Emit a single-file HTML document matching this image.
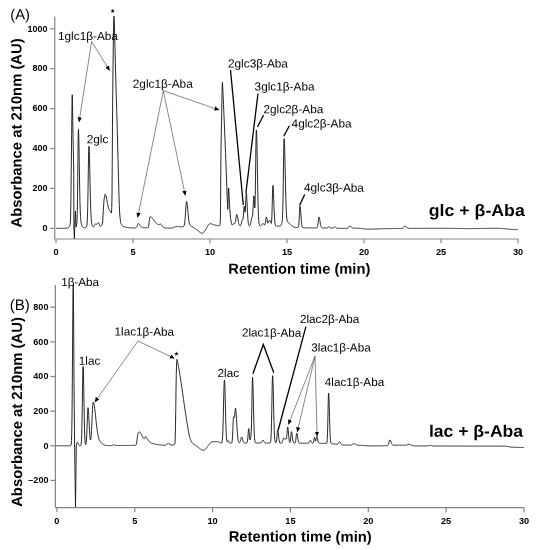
<!DOCTYPE html><html><head><meta charset="utf-8"><title>HPLC chromatograms</title>
<style>html,body{margin:0;padding:0;background:#fff}svg{display:block}text{font-family:"Liberation Sans",Arial,sans-serif;fill:#000}.b{font-weight:bold}.st{font-family:"DejaVu Sans",sans-serif}</style></head><body>
<svg width="537" height="550" viewBox="0 0 537 550">
<defs><marker id="ah" markerWidth="7" markerHeight="6" refX="4.5" refY="2.2" orient="auto" markerUnits="userSpaceOnUse"><path d="M0,0 L4.9,2.2 L0,4.4 Z" fill="#000"/></marker></defs>
<rect width="537" height="550" fill="#fff"/>
<g>
<g stroke="#858585" stroke-width="1.2" fill="none">
<path d="M54.75,16.5 V239.0 M54.75,239.0 H518.2"/>
<path d="M50.2,228.3 H54.75"/>
<path d="M50.2,188.4 H54.75"/>
<path d="M50.2,148.5 H54.75"/>
<path d="M50.2,108.6 H54.75"/>
<path d="M50.2,68.7 H54.75"/>
<path d="M50.2,28.8 H54.75"/>
<path d="M56.0,239.0 V243.3"/>
<path d="M133.0,239.0 V243.3"/>
<path d="M210.0,239.0 V243.3"/>
<path d="M287.0,239.0 V243.3"/>
<path d="M364.0,239.0 V243.3"/>
<path d="M441.0,239.0 V243.3"/>
<path d="M518.0,239.0 V243.3"/>
</g>
<text class="b" transform="translate(47.5,231.0) scale(0.95,1)" font-size="9.5" text-anchor="end">0</text>
<text class="b" transform="translate(47.5,191.1) scale(0.95,1)" font-size="9.5" text-anchor="end">200</text>
<text class="b" transform="translate(47.5,151.2) scale(0.95,1)" font-size="9.5" text-anchor="end">400</text>
<text class="b" transform="translate(47.5,111.3) scale(0.95,1)" font-size="9.5" text-anchor="end">600</text>
<text class="b" transform="translate(47.5,71.4) scale(0.95,1)" font-size="9.5" text-anchor="end">800</text>
<text class="b" transform="translate(47.5,31.5) scale(0.95,1)" font-size="9.5" text-anchor="end">1000</text>
<text class="b" transform="translate(56.0,254.7) scale(0.95,1)" font-size="9.7" text-anchor="middle">0</text>
<text class="b" transform="translate(133.0,254.7) scale(0.95,1)" font-size="9.7" text-anchor="middle">5</text>
<text class="b" transform="translate(210.0,254.7) scale(0.95,1)" font-size="9.7" text-anchor="middle">10</text>
<text class="b" transform="translate(287.0,254.7) scale(0.95,1)" font-size="9.7" text-anchor="middle">15</text>
<text class="b" transform="translate(364.0,254.7) scale(0.95,1)" font-size="9.7" text-anchor="middle">20</text>
<text class="b" transform="translate(441.0,254.7) scale(0.95,1)" font-size="9.7" text-anchor="middle">25</text>
<text class="b" transform="translate(518.0,254.7) scale(0.95,1)" font-size="9.7" text-anchor="middle">30</text>
<text transform="translate(10.2,19.6) rotate(0.06)" font-size="14.8">(A)</text>
<text class="b" transform="translate(21.5,132.9) rotate(-90.06)" font-size="14.8" text-anchor="middle">Absorbance at 210nm (AU)</text>
<text class="b" transform="translate(299.3,273.7) rotate(0.06)" font-size="14.7" text-anchor="middle">Retention time (min)</text>
<text class="b" transform="translate(428.8,216) rotate(0.06)" font-size="16.7" textLength="96.0" lengthAdjust="spacingAndGlyphs">glc + β-Aba</text>
<path d="M56.00,228.35 L56.25,228.35 L56.50,228.35 L56.75,228.35 L57.00,228.35 L57.25,228.35 L57.50,228.35 L57.75,228.35 L58.00,228.35 L58.25,228.35 L58.50,228.35 L58.75,228.35 L59.00,228.35 L59.25,228.35 L59.50,228.35 L59.75,228.35 L60.00,228.35 L60.25,228.35 L60.50,228.35 L60.75,228.35 L61.00,228.35 L61.25,228.35 L61.50,228.35 L61.75,228.35 L62.00,228.35 L62.25,228.35 L62.50,228.35 L62.75,228.35 L63.00,228.35 L63.25,228.35 L63.50,228.35 L63.75,228.35 L64.00,228.35 L64.25,228.35 L64.50,228.35 L64.75,228.35 L65.00,228.35 L65.25,228.35 L65.50,228.35 L65.75,228.35 L66.00,228.35 L66.25,228.34 L66.50,228.31 L66.75,228.27 L67.00,228.22 L67.25,228.15 L67.50,228.07 L67.75,227.98 L68.00,227.88 L68.25,227.78 L68.50,227.64 L68.75,227.45 L69.00,227.21 L69.25,226.89 L69.50,226.50 L69.75,225.91 L70.00,224.90 L70.25,223.31 L70.50,220.04 L70.75,208.80 L71.00,192.84 L71.25,169.53 L71.50,147.45 L71.75,125.46 L72.00,102.97 L72.25,94.85 L72.50,104.60 L72.75,120.65 L73.00,135.30 L73.25,147.50 L73.50,159.70 L73.75,174.27 L73.90,228.00 L74.40,238.50 L74.90,222.00 L75.40,211.00 L75.90,224.00 L76.20,227.00 L76.25,225.16 L76.50,225.02 L76.75,223.88 L77.00,220.57 L77.25,212.92 L77.50,198.37 L77.75,176.29 L78.00,151.25 L78.25,132.92 L78.50,129.45 L78.75,135.66 L79.00,147.88 L79.25,163.25 L79.50,178.92 L79.75,192.69 L80.00,203.47 L80.25,211.17 L80.50,216.31 L80.75,219.63 L81.00,221.79 L81.25,223.27 L81.50,224.34 L81.75,225.16 L82.00,225.81 L82.25,226.32 L82.50,226.72 L82.75,227.03 L83.00,227.26 L83.25,227.43 L83.50,227.55 L83.75,227.63 L84.00,227.68 L84.25,227.72 L84.50,227.74 L84.75,227.74 L85.00,227.74 L85.25,227.71 L85.50,227.66 L85.75,227.57 L86.00,227.41 L86.25,227.14 L86.50,226.66 L86.75,225.79 L87.00,224.10 L87.25,220.86 L87.50,214.94 L87.75,205.21 L88.00,191.30 L88.25,174.63 L88.50,158.73 L88.75,148.22 L89.00,146.27 L89.25,150.31 L89.50,158.57 L89.75,169.48 L90.00,181.30 L90.25,192.52 L90.50,202.11 L90.75,209.67 L91.00,215.22 L91.25,219.11 L91.50,221.74 L91.75,223.51 L92.00,224.71 L92.25,225.54 L92.50,226.12 L92.75,226.51 L93.00,226.75 L93.25,226.85 L93.50,226.82 L93.75,226.64 L94.00,226.33 L94.25,225.91 L94.50,225.41 L94.75,224.89 L95.00,224.43 L95.25,224.08 L95.50,223.90 L95.75,223.89 L96.00,224.00 L96.25,224.15 L96.50,224.25 L96.75,224.24 L97.00,224.05 L97.25,223.73 L97.50,223.32 L97.75,222.93 L98.00,222.67 L98.25,222.62 L98.50,222.80 L98.75,223.21 L99.00,223.77 L99.25,224.39 L99.50,224.99 L99.75,225.51 L100.00,225.91 L100.25,226.15 L100.50,226.23 L100.75,226.18 L101.00,226.02 L101.25,225.78 L101.50,225.48 L101.75,225.12 L102.00,224.62 L102.25,223.93 L102.50,222.97 L102.75,220.93 L103.00,215.97 L103.25,210.79 L103.50,207.09 L103.75,203.61 L104.00,200.59 L104.25,198.33 L104.50,196.77 L104.75,195.40 L105.00,194.47 L105.25,194.21 L105.50,194.56 L105.75,195.22 L106.00,196.00 L106.25,196.95 L106.50,198.19 L106.75,199.58 L107.00,200.98 L107.25,202.24 L107.50,203.49 L107.75,204.76 L108.00,205.97 L108.25,207.05 L108.50,207.90 L108.75,208.57 L109.00,209.16 L109.25,209.68 L109.50,210.15 L109.75,210.59 L110.00,211.00 L110.25,211.43 L110.50,211.88 L110.75,212.30 L111.00,212.66 L111.25,212.91 L111.50,213.00 L111.75,207.63 L112.00,195.00 L112.25,161.42 L112.50,120.00 L112.75,92.02 L113.00,68.32 L113.25,47.67 L113.50,28.93 L113.75,18.82 L114.00,16.20 L114.25,20.85 L114.50,27.65 L114.75,37.27 L115.00,48.45 L115.25,59.82 L115.50,70.00 L115.75,78.80 L116.00,87.10 L116.25,95.13 L116.50,103.14 L116.75,111.35 L117.00,120.00 L117.25,129.29 L117.50,139.05 L117.75,148.99 L118.00,158.81 L118.25,168.20 L118.50,177.42 L118.75,187.04 L119.00,196.25 L119.25,204.19 L119.50,210.00 L119.75,214.02 L120.00,217.14 L120.25,219.39 L120.50,221.17 L120.75,222.58 L121.00,223.50 L121.25,224.09 L121.50,224.58 L121.75,224.98 L122.00,225.31 L122.25,225.58 L122.50,225.80 L122.75,225.99 L123.00,226.15 L123.25,226.29 L123.50,226.42 L123.75,226.53 L124.00,226.63 L124.25,226.72 L124.50,226.80 L124.75,226.88 L125.00,226.96 L125.25,227.03 L125.50,227.11 L125.75,227.17 L126.00,227.24 L126.25,227.30 L126.50,227.35 L126.75,227.41 L127.00,227.45 L127.25,227.50 L127.50,227.54 L127.75,227.57 L128.00,227.60 L128.25,227.63 L128.50,227.65 L128.75,227.68 L129.00,227.71 L129.25,227.73 L129.50,227.75 L129.75,227.78 L130.00,227.80 L130.25,227.82 L130.50,227.84 L130.75,227.86 L131.00,227.88 L131.25,227.90 L131.50,227.92 L131.75,227.93 L132.00,227.94 L132.25,227.96 L132.50,227.97 L132.75,227.98 L133.00,227.99 L133.25,227.99 L133.50,228.00 L133.75,228.00 L134.00,228.00 L134.25,228.00 L134.50,228.00 L134.75,227.99 L135.00,227.98 L135.25,227.95 L135.50,227.91 L135.75,227.84 L136.00,227.72 L136.25,227.53 L136.50,227.24 L136.75,226.83 L137.00,226.31 L137.25,225.69 L137.50,225.03 L137.75,224.41 L138.00,223.91 L138.25,223.61 L138.50,223.56 L138.75,223.64 L139.00,223.82 L139.25,224.08 L139.50,224.41 L139.75,224.78 L140.00,225.17 L140.25,225.56 L140.50,225.94 L140.75,226.28 L141.00,226.59 L141.25,226.85 L141.50,227.06 L141.75,227.24 L142.00,227.37 L142.25,227.47 L142.50,227.54 L142.75,227.59 L143.00,227.63 L143.25,227.66 L143.50,227.68 L143.75,227.69 L144.00,227.71 L144.25,227.72 L144.50,227.73 L144.75,227.74 L145.00,227.75 L145.25,227.76 L145.50,227.77 L145.75,227.78 L146.00,227.78 L146.25,227.79 L146.50,227.80 L146.75,227.80 L147.00,227.80 L147.25,227.79 L147.50,227.76 L147.75,227.71 L148.00,227.63 L148.25,227.52 L148.50,226.86 L148.75,225.13 L149.00,223.16 L149.25,220.53 L149.50,218.50 L149.75,217.41 L150.00,216.63 L150.25,216.40 L150.50,216.50 L150.75,216.69 L151.00,216.90 L151.25,217.12 L151.50,217.37 L151.75,217.65 L152.00,217.96 L152.25,218.29 L152.50,218.63 L152.75,218.97 L153.00,219.32 L153.25,219.66 L153.50,220.00 L153.75,220.31 L154.00,220.60 L154.25,220.88 L154.50,221.18 L154.75,221.49 L155.00,221.79 L155.25,222.10 L155.50,222.41 L155.75,222.71 L156.00,222.99 L156.25,223.26 L156.50,223.51 L156.75,223.73 L157.00,223.93 L157.25,224.10 L157.50,224.23 L157.75,224.32 L158.00,224.39 L158.25,224.46 L158.50,224.52 L158.75,224.56 L159.00,224.59 L159.25,224.59 L159.50,224.43 L159.75,224.14 L160.00,223.88 L160.25,223.80 L160.50,223.95 L160.75,224.23 L161.00,224.56 L161.25,224.86 L161.50,225.16 L161.75,225.50 L162.00,225.85 L162.25,226.19 L162.50,226.51 L162.75,226.79 L163.00,227.00 L163.25,227.17 L163.50,227.33 L163.75,227.46 L164.00,227.58 L164.25,227.66 L164.50,227.72 L164.75,227.77 L165.00,227.81 L165.25,227.86 L165.50,227.90 L165.75,227.93 L166.00,227.97 L166.25,228.00 L166.50,228.02 L166.75,228.05 L167.00,228.06 L167.25,228.08 L167.50,228.09 L167.75,228.10 L168.00,228.10 L168.25,228.10 L168.50,228.10 L168.75,228.10 L169.00,228.09 L169.25,228.09 L169.50,228.08 L169.75,228.08 L170.00,228.07 L170.25,228.07 L170.50,228.06 L170.75,228.05 L171.00,228.04 L171.25,228.03 L171.50,228.02 L171.75,228.01 L172.00,228.00 L172.25,227.98 L172.50,227.94 L172.75,227.88 L173.00,227.80 L173.25,227.72 L173.50,227.62 L173.75,227.52 L174.00,227.40 L174.25,227.29 L174.50,227.17 L174.75,227.06 L175.00,226.94 L175.25,226.83 L175.50,226.73 L175.75,226.64 L176.00,226.56 L176.25,226.49 L176.50,226.44 L176.75,226.41 L177.00,226.40 L177.25,226.40 L177.50,226.41 L177.75,226.43 L178.00,226.45 L178.25,226.48 L178.50,226.51 L178.75,226.54 L179.00,226.58 L179.25,226.61 L179.50,226.65 L179.75,226.69 L180.00,226.72 L180.25,226.76 L180.50,226.79 L180.75,226.82 L181.00,226.85 L181.25,226.87 L181.50,226.89 L181.75,226.90 L182.00,226.90 L182.25,226.89 L182.50,226.88 L182.75,226.85 L183.00,226.80 L183.25,226.71 L183.50,226.56 L183.75,226.30 L184.00,225.83 L184.25,225.06 L184.50,223.85 L184.75,222.06 L185.00,219.60 L185.25,216.49 L185.50,212.88 L185.75,209.11 L186.00,205.64 L186.25,202.98 L186.50,201.58 L186.75,201.57 L187.00,202.56 L187.25,204.39 L187.50,206.84 L187.75,209.67 L188.00,212.60 L188.25,215.40 L188.50,217.91 L188.75,220.03 L189.00,221.72 L189.25,223.00 L189.50,223.93 L189.75,224.59 L190.00,225.06 L190.25,225.39 L190.50,225.65 L190.75,225.85 L191.00,226.04 L191.25,226.21 L191.50,226.38 L191.75,226.54 L192.00,226.71 L192.25,226.87 L192.50,227.03 L192.75,227.17 L193.00,227.31 L193.25,227.46 L193.50,227.60 L193.75,227.76 L194.00,227.91 L194.25,228.07 L194.50,228.23 L194.75,228.40 L195.00,228.56 L195.25,228.73 L195.50,228.90 L195.75,229.07 L196.00,229.23 L196.25,229.40 L196.50,229.57 L196.75,229.74 L197.00,229.90 L197.25,230.07 L197.50,230.26 L197.75,230.46 L198.00,230.66 L198.25,230.88 L198.50,231.10 L198.75,231.32 L199.00,231.54 L199.25,231.76 L199.50,231.98 L199.75,232.18 L200.00,232.38 L200.25,232.56 L200.50,232.73 L200.75,232.88 L201.00,233.02 L201.25,233.13 L201.50,233.21 L201.75,233.27 L202.00,233.30 L202.25,233.29 L202.50,233.23 L202.75,233.11 L203.00,232.95 L203.25,232.75 L203.50,232.52 L203.75,232.25 L204.00,231.96 L204.25,231.65 L204.50,231.33 L204.75,230.99 L205.00,230.66 L205.25,230.33 L205.50,230.00 L205.75,229.64 L206.00,229.22 L206.25,228.75 L206.50,228.24 L206.75,227.72 L207.00,227.21 L207.25,226.71 L207.50,226.25 L207.75,225.84 L208.00,225.50 L208.25,225.19 L208.50,224.88 L208.75,224.58 L209.00,224.29 L209.25,224.04 L209.50,223.83 L209.75,223.68 L210.00,223.61 L210.25,223.60 L210.50,223.63 L210.75,223.68 L211.00,223.74 L211.25,223.82 L211.50,223.91 L211.75,224.01 L212.00,224.12 L212.25,224.23 L212.50,224.34 L212.75,224.45 L213.00,224.55 L213.25,224.64 L213.50,224.72 L213.75,224.79 L214.00,224.84 L214.25,224.90 L214.50,224.96 L214.75,225.02 L215.00,225.07 L215.25,225.13 L215.50,225.19 L215.75,225.24 L216.00,225.29 L216.25,225.34 L216.50,225.39 L216.75,225.44 L217.00,225.48 L217.25,225.52 L217.50,225.56 L217.75,225.60 L218.00,225.63 L218.25,225.65 L218.50,225.67 L218.75,225.69 L219.00,225.70 L219.25,225.70 L219.50,225.63 L219.75,225.34 L220.00,224.80 L220.25,222.16 L220.50,212.00 L220.75,175.89 L221.00,147.80 L221.25,134.55 L221.50,123.60 L221.75,109.75 L222.00,94.67 L222.25,84.49 L222.50,82.38 L222.75,88.00 L223.00,93.20 L223.25,98.72 L223.50,104.47 L223.75,110.34 L224.00,116.25 L224.25,122.12 L224.50,128.03 L224.75,134.01 L225.00,140.06 L225.25,146.21 L225.50,152.46 L225.75,158.86 L226.00,165.45 L226.25,172.17 L226.50,178.93 L226.75,185.66 L227.00,192.63 L227.25,199.56 L227.50,205.16 L227.75,209.43 L228.00,204.15 L228.25,194.58 L228.50,187.90 L228.75,188.38 L229.00,193.92 L229.25,198.80 L229.50,203.69 L229.75,208.31 L230.00,212.00 L230.25,214.86 L230.50,217.37 L230.75,219.45 L231.00,221.00 L231.25,222.21 L231.50,223.30 L231.75,224.19 L232.00,224.81 L232.25,225.06 L232.50,224.99 L232.75,224.78 L233.00,224.45 L233.25,224.07 L233.50,223.72 L233.75,223.49 L234.00,223.42 L234.25,223.47 L234.50,223.56 L234.75,223.54 L235.00,223.26 L235.25,222.58 L235.50,221.43 L235.75,219.87 L236.00,218.09 L236.25,216.38 L236.50,215.08 L236.75,214.50 L237.00,214.68 L237.25,215.42 L237.50,216.61 L237.75,218.08 L238.00,219.66 L238.25,221.18 L238.50,222.52 L238.75,223.61 L239.00,224.44 L239.25,225.03 L239.50,225.43 L239.75,225.66 L240.00,225.77 L240.25,225.75 L240.50,225.60 L240.75,225.27 L241.00,224.69 L241.25,223.86 L241.50,222.81 L241.75,221.68 L242.00,220.68 L242.25,220.01 L242.50,219.70 L242.75,219.52 L243.00,218.90 L243.25,217.16 L243.50,214.04 L243.75,210.17 L244.00,207.07 L244.25,206.20 L244.50,207.83 L244.75,210.59 L245.00,212.28 L245.25,211.17 L245.50,207.00 L245.75,201.09 L246.00,195.68 L246.25,193.03 L246.50,193.79 L246.75,196.88 L247.00,201.61 L247.25,207.10 L247.50,212.43 L247.75,216.99 L248.00,220.46 L248.25,222.84 L248.50,224.34 L248.75,225.18 L249.00,225.62 L249.25,225.81 L249.50,225.85 L249.75,225.76 L250.00,225.52 L250.25,225.04 L250.50,224.27 L250.75,223.15 L251.00,221.75 L251.25,220.23 L251.50,218.86 L251.75,217.87 L252.00,217.31 L252.25,216.87 L252.50,215.90 L252.75,213.67 L253.00,209.76 L253.25,204.57 L253.50,199.41 L253.75,196.03 L254.00,195.81 L254.25,199.51 L254.50,204.81 L254.75,207.87 L255.00,205.30 L255.25,195.39 L255.50,178.73 L255.75,158.56 L256.00,140.33 L256.25,129.97 L256.50,130.08 L256.75,136.46 L257.00,147.47 L257.25,161.30 L257.50,175.93 L257.75,189.59 L258.00,201.13 L258.25,210.05 L258.50,216.38 L258.75,220.55 L259.00,223.10 L259.25,224.55 L259.50,225.32 L259.75,225.69 L260.00,225.85 L260.25,225.89 L260.50,225.87 L260.75,225.80 L261.00,225.66 L261.25,225.46 L261.50,225.19 L261.75,224.86 L262.00,224.49 L262.25,224.12 L262.50,223.80 L262.75,223.58 L263.00,223.50 L263.25,223.58 L263.50,223.80 L263.75,224.11 L264.00,224.47 L264.25,224.78 L264.50,224.97 L264.75,224.91 L265.00,224.45 L265.25,223.48 L265.50,221.97 L265.75,220.11 L266.00,218.34 L266.25,217.21 L266.50,217.08 L266.75,217.84 L267.00,219.22 L267.25,220.84 L267.50,222.30 L267.75,223.17 L268.00,223.22 L268.25,222.50 L268.50,221.50 L268.75,220.82 L269.00,220.67 L269.25,220.74 L269.50,220.66 L269.75,220.44 L270.00,220.41 L270.25,220.78 L270.50,221.51 L270.75,222.44 L271.00,223.27 L271.25,223.50 L271.50,222.42 L271.75,219.03 L272.00,212.52 L272.25,203.17 L272.50,193.20 L272.75,186.33 L273.00,185.33 L273.25,188.07 L273.50,193.26 L273.75,199.84 L274.00,206.67 L274.25,212.79 L274.50,217.66 L274.75,221.15 L275.00,223.42 L275.25,224.76 L275.50,225.49 L275.75,225.85 L276.00,226.02 L276.25,226.09 L276.50,226.12 L276.75,226.14 L277.00,226.14 L277.25,226.15 L277.50,226.15 L277.75,226.16 L278.00,226.16 L278.25,226.17 L278.50,226.17 L278.75,226.18 L279.00,226.18 L279.25,226.19 L279.50,226.18 L279.75,226.17 L280.00,226.14 L280.25,226.06 L280.50,225.90 L280.75,225.64 L281.00,225.25 L281.25,224.73 L281.50,224.10 L281.75,223.37 L282.00,222.36 L282.25,220.58 L282.50,217.15 L282.75,210.57 L283.00,199.40 L283.25,183.46 L283.50,164.94 L283.75,148.36 L284.00,138.90 L284.25,138.74 L284.50,143.41 L284.75,151.68 L285.00,162.37 L285.25,174.09 L285.50,185.55 L285.75,195.76 L286.00,204.14 L286.25,210.52 L286.50,215.03 L286.75,218.02 L287.00,219.89 L287.25,221.00 L287.50,221.67 L287.75,222.08 L288.00,222.34 L288.25,222.54 L288.50,222.72 L288.75,222.91 L289.00,223.12 L289.25,223.34 L289.50,223.58 L289.75,223.82 L290.00,224.07 L290.25,224.33 L290.50,224.59 L290.75,224.84 L291.00,225.09 L291.25,225.33 L291.50,225.56 L291.75,225.78 L292.00,225.98 L292.25,226.16 L292.50,226.33 L292.75,226.49 L293.00,226.63 L293.25,226.76 L293.50,226.88 L293.75,226.98 L294.00,227.07 L294.25,227.16 L294.50,227.23 L294.75,227.29 L295.00,227.35 L295.25,227.40 L295.50,227.44 L295.75,227.47 L296.00,227.49 L296.25,227.50 L296.50,227.52 L296.75,227.53 L297.00,227.55 L297.25,227.56 L297.50,227.57 L297.75,227.57 L298.00,227.52 L298.25,227.30 L298.50,226.68 L298.75,225.18 L299.00,222.28 L299.25,217.81 L299.50,212.47 L299.75,207.96 L300.00,206.18 L300.25,207.00 L300.50,209.27 L300.75,212.52 L301.00,216.12 L301.25,219.53 L301.50,222.37 L301.75,224.50 L302.00,225.93 L302.25,226.81 L302.50,227.31 L302.75,227.57 L303.00,227.70 L303.25,227.75 L303.50,227.78 L303.75,227.79 L304.00,227.80 L304.25,227.81 L304.50,227.82 L304.75,227.82 L305.00,227.83 L305.25,227.83 L305.50,227.84 L305.75,227.84 L306.00,227.85 L306.25,227.85 L306.50,227.86 L306.75,227.86 L307.00,227.86 L307.25,227.87 L307.50,227.87 L307.75,227.87 L308.00,227.88 L308.25,227.88 L308.50,227.88 L308.75,227.89 L309.00,227.89 L309.25,227.89 L309.50,227.90 L309.75,227.90 L310.00,227.90 L310.25,227.90 L310.50,227.90 L310.75,227.91 L311.00,227.91 L311.25,227.91 L311.50,227.91 L311.75,227.91 L312.00,227.92 L312.25,227.92 L312.50,227.92 L312.75,227.92 L313.00,227.92 L313.25,227.92 L313.50,227.92 L313.75,227.93 L314.00,227.93 L314.25,227.93 L314.50,227.93 L314.75,227.93 L315.00,227.93 L315.25,227.93 L315.50,227.93 L315.75,227.94 L316.00,227.94 L316.25,227.93 L316.50,227.92 L316.75,227.88 L317.00,227.75 L317.25,227.46 L317.50,226.83 L317.75,225.71 L318.00,223.98 L318.25,221.75 L318.50,219.42 L318.75,217.63 L319.00,216.95 L319.25,217.29 L319.50,218.24 L319.75,219.65 L320.00,221.28 L320.25,222.91 L320.50,224.38 L320.75,225.57 L321.00,226.46 L321.25,227.08 L321.50,227.47 L321.75,227.70 L322.00,227.83 L322.25,227.90 L322.50,227.93 L322.75,227.95 L323.00,227.96 L323.25,227.96 L323.50,227.96 L323.75,227.96 L324.00,227.96 L324.25,227.96 L324.50,227.97 L324.75,227.97 L325.00,227.97 L325.25,227.97 L325.50,227.97 L325.75,227.97 L326.00,227.97 L326.25,227.97 L326.50,227.96 L326.75,227.95 L327.00,227.92 L327.25,227.86 L327.50,227.76 L327.75,227.60 L328.00,227.39 L328.25,227.15 L328.50,226.92 L328.75,226.75 L329.00,226.69 L329.25,226.76 L329.50,226.93 L329.75,227.16 L330.00,227.40 L330.25,227.62 L330.50,227.78 L330.75,227.89 L331.00,227.96 L331.25,227.99 L331.50,228.01 L331.75,228.03 L332.00,228.03 L332.25,228.03 L332.50,228.01 L332.75,227.97 L333.00,227.89 L333.25,227.77 L333.50,227.58 L333.75,227.36 L334.00,227.13 L334.25,226.94 L334.50,226.84 L334.75,226.86 L335.00,227.00 L335.25,227.23 L335.50,227.48 L335.75,227.72 L336.00,227.91 L336.25,228.05 L336.50,228.14 L336.75,228.19 L337.00,228.22 L337.25,228.24 L337.50,228.26 L337.75,228.27 L338.00,228.28 L338.25,228.29 L338.50,228.30 L338.75,228.31 L339.00,228.32 L339.25,228.33 L339.50,228.33 L339.75,228.34 L340.00,228.35 L340.25,228.36 L340.50,228.36 L340.75,228.37 L341.00,228.38 L341.25,228.38 L341.50,228.39 L341.75,228.39 L342.00,228.39 L342.25,228.40 L342.50,228.40 L342.75,228.40 L343.00,228.40 L343.25,228.40 L343.50,228.40 L343.75,228.40 L344.00,228.40 L344.25,228.40 L344.50,228.39 L344.75,228.39 L345.00,228.39 L345.25,228.39 L345.50,228.39 L345.75,228.38 L346.00,228.38 L346.25,228.37 L346.50,228.37 L346.75,228.35 L347.00,228.33 L347.25,228.29 L347.50,228.21 L347.75,228.09 L348.00,227.90 L348.25,227.63 L348.50,227.30 L348.75,226.93 L349.00,226.57 L349.25,226.28 L349.50,226.13 L349.75,226.13 L350.00,226.19 L350.25,226.30 L350.50,226.46 L350.75,226.66 L351.00,226.87 L351.25,227.08 L351.50,227.29 L351.75,227.49 L352.00,227.66 L352.25,227.80 L352.50,227.92 L352.75,228.01 L353.00,228.08 L353.25,228.13 L353.50,228.17 L353.75,228.19 L354.00,228.21 L354.25,228.21 L354.50,228.22 L354.75,228.22 L355.00,228.22 L355.25,228.22 L355.50,228.21 L355.75,228.21 L356.00,228.21 L356.25,228.21 L356.50,228.21 L356.75,228.20 L357.00,228.20 L357.25,228.20 L357.50,228.20 L357.75,228.20 L358.00,228.20 L358.25,228.20 L358.50,228.21 L358.75,228.22 L359.00,228.23 L359.25,228.24 L359.50,228.26 L359.75,228.28 L360.00,228.30 L360.25,228.33 L360.50,228.36 L360.75,228.39 L361.00,228.42 L361.25,228.45 L361.50,228.48 L361.75,228.52 L362.00,228.55 L362.25,228.59 L362.50,228.63 L362.75,228.66 L363.00,228.70 L363.25,228.74 L363.50,228.77 L363.75,228.81 L364.00,228.85 L364.25,228.88 L364.50,228.92 L364.75,228.95 L365.00,228.98 L365.25,229.01 L365.50,229.04 L365.75,229.07 L366.00,229.10 L366.25,229.12 L366.50,229.14 L366.75,229.16 L367.00,229.17 L367.25,229.18 L367.50,229.19 L367.75,229.20 L368.00,229.20 L368.25,229.20 L368.50,229.20 L368.75,229.20 L369.00,229.19 L369.25,229.19 L369.50,229.19 L369.75,229.18 L370.00,229.18 L370.25,229.17 L370.50,229.16 L370.75,229.16 L371.00,229.15 L371.25,229.14 L371.50,229.13 L371.75,229.13 L372.00,229.12 L372.25,229.11 L372.50,229.10 L372.75,229.09 L373.00,229.08 L373.25,229.07 L373.50,229.06 L373.75,229.05 L374.00,229.03 L374.25,229.02 L374.50,229.01 L374.75,229.00 L375.00,228.99 L375.25,228.98 L375.50,228.97 L375.75,228.96 L376.00,228.94 L376.25,228.93 L376.50,228.92 L376.75,228.91 L377.00,228.90 L377.25,228.89 L377.50,228.88 L377.75,228.87 L378.00,228.86 L378.25,228.85 L378.50,228.84 L378.75,228.83 L379.00,228.83 L379.25,228.82 L379.50,228.81 L379.75,228.81 L380.00,228.80 L380.25,228.79 L380.50,228.79 L380.75,228.78 L381.00,228.78 L381.25,228.77 L381.50,228.77 L381.75,228.76 L382.00,228.76 L382.25,228.75 L382.50,228.75 L382.75,228.74 L383.00,228.73 L383.25,228.73 L383.50,228.72 L383.75,228.72 L384.00,228.71 L384.25,228.71 L384.50,228.70 L384.75,228.70 L385.00,228.69 L385.25,228.69 L385.50,228.68 L385.75,228.68 L386.00,228.67 L386.25,228.67 L386.50,228.67 L386.75,228.66 L387.00,228.66 L387.25,228.65 L387.50,228.65 L387.75,228.64 L388.00,228.64 L388.25,228.63 L388.50,228.63 L388.75,228.63 L389.00,228.62 L389.25,228.62 L389.50,228.61 L389.75,228.61 L390.00,228.60 L390.25,228.60 L390.50,228.60 L390.75,228.59 L391.00,228.59 L391.25,228.58 L391.50,228.58 L391.75,228.58 L392.00,228.57 L392.25,228.57 L392.50,228.57 L392.75,228.56 L393.00,228.56 L393.25,228.56 L393.50,228.55 L393.75,228.55 L394.00,228.55 L394.25,228.54 L394.50,228.54 L394.75,228.54 L395.00,228.53 L395.25,228.53 L395.50,228.53 L395.75,228.52 L396.00,228.52 L396.25,228.52 L396.50,228.52 L396.75,228.51 L397.00,228.51 L397.25,228.51 L397.50,228.51 L397.75,228.50 L398.00,228.50 L398.25,228.50 L398.50,228.50 L398.75,228.49 L399.00,228.49 L399.25,228.49 L399.50,228.49 L399.75,228.48 L400.00,228.48 L400.25,228.48 L400.50,228.48 L400.75,228.47 L401.00,228.47 L401.25,228.46 L401.50,228.45 L401.75,228.43 L402.00,228.39 L402.25,228.32 L402.50,228.21 L402.75,228.04 L403.00,227.82 L403.25,227.53 L403.50,227.20 L403.75,226.85 L404.00,226.53 L404.25,226.28 L404.50,226.16 L404.75,226.15 L405.00,226.20 L405.25,226.28 L405.50,226.41 L405.75,226.56 L406.00,226.73 L406.25,226.92 L406.50,227.11 L406.75,227.30 L407.00,227.48 L407.25,227.65 L407.50,227.80 L407.75,227.93 L408.00,228.04 L408.25,228.13 L408.50,228.20 L408.75,228.26 L409.00,228.30 L409.25,228.33 L409.50,228.36 L409.75,228.37 L410.00,228.38 L410.25,228.39 L410.50,228.40 L410.75,228.40 L411.00,228.40 L411.25,228.40 L411.50,228.40 L411.75,228.40 L412.00,228.40 L412.25,228.40 L412.50,228.40 L412.75,228.40 L413.00,228.39 L413.25,228.39 L413.50,228.39 L413.75,228.39 L414.00,228.39 L414.25,228.39 L414.50,228.39 L414.75,228.39 L415.00,228.38 L415.25,228.38 L415.50,228.38 L415.75,228.38 L416.00,228.38 L416.25,228.38 L416.50,228.38 L416.75,228.38 L417.00,228.37 L417.25,228.37 L417.50,228.37 L417.75,228.37 L418.00,228.37 L418.25,228.37 L418.50,228.37 L418.75,228.37 L419.00,228.36 L419.25,228.36 L419.50,228.36 L419.75,228.36 L420.00,228.36 L420.25,228.36 L420.50,228.36 L420.75,228.36 L421.00,228.36 L421.25,228.35 L421.50,228.35 L421.75,228.35 L422.00,228.35 L422.25,228.35 L422.50,228.35 L422.75,228.35 L423.00,228.35 L423.25,228.34 L423.50,228.34 L423.75,228.34 L424.00,228.34 L424.25,228.34 L424.50,228.34 L424.75,228.34 L425.00,228.34 L425.25,228.34 L425.50,228.33 L425.75,228.33 L426.00,228.33 L426.25,228.33 L426.50,228.33 L426.75,228.33 L427.00,228.33 L427.25,228.33 L427.50,228.33 L427.75,228.33 L428.00,228.32 L428.25,228.32 L428.50,228.32 L428.75,228.32 L429.00,228.32 L429.25,228.32 L429.50,228.32 L429.75,228.32 L430.00,228.32 L430.25,228.32 L430.50,228.32 L430.75,228.32 L431.00,228.31 L431.25,228.31 L431.50,228.31 L431.75,228.31 L432.00,228.31 L432.25,228.31 L432.50,228.31 L432.75,228.31 L433.00,228.31 L433.25,228.31 L433.50,228.31 L433.75,228.31 L434.00,228.31 L434.25,228.31 L434.50,228.31 L434.75,228.31 L435.00,228.30 L435.25,228.30 L435.50,228.30 L435.75,228.30 L436.00,228.30 L436.25,228.30 L436.50,228.30 L436.75,228.30 L437.00,228.30 L437.25,228.30 L437.50,228.30 L437.75,228.30 L438.00,228.30 L438.25,228.30 L438.50,228.30 L438.75,228.30 L439.00,228.30 L439.25,228.30 L439.50,228.30 L439.75,228.30 L440.00,228.30 L440.25,228.30 L440.50,228.30 L440.75,228.30 L441.00,228.30 L441.25,228.30 L441.50,228.30 L441.75,228.30 L442.00,228.30 L442.25,228.30 L442.50,228.31 L442.75,228.31 L443.00,228.31 L443.25,228.31 L443.50,228.31 L443.75,228.31 L444.00,228.31 L444.25,228.32 L444.50,228.32 L444.75,228.32 L445.00,228.32 L445.25,228.32 L445.50,228.33 L445.75,228.33 L446.00,228.33 L446.25,228.33 L446.50,228.34 L446.75,228.34 L447.00,228.34 L447.25,228.34 L447.50,228.35 L447.75,228.35 L448.00,228.35 L448.25,228.36 L448.50,228.36 L448.75,228.36 L449.00,228.36 L449.25,228.37 L449.50,228.37 L449.75,228.37 L450.00,228.38 L450.25,228.38 L450.50,228.38 L450.75,228.39 L451.00,228.39 L451.25,228.39 L451.50,228.40 L451.75,228.40 L452.00,228.41 L452.25,228.41 L452.50,228.41 L452.75,228.42 L453.00,228.42 L453.25,228.42 L453.50,228.43 L453.75,228.43 L454.00,228.44 L454.25,228.44 L454.50,228.44 L454.75,228.45 L455.00,228.45 L455.25,228.45 L455.50,228.46 L455.75,228.46 L456.00,228.46 L456.25,228.47 L456.50,228.47 L456.75,228.48 L457.00,228.48 L457.25,228.48 L457.50,228.49 L457.75,228.49 L458.00,228.49 L458.25,228.50 L458.50,228.50 L458.75,228.51 L459.00,228.51 L459.25,228.51 L459.50,228.52 L459.75,228.52 L460.00,228.52 L460.25,228.53 L460.50,228.53 L460.75,228.53 L461.00,228.54 L461.25,228.54 L461.50,228.54 L461.75,228.54 L462.00,228.55 L462.25,228.55 L462.50,228.55 L462.75,228.56 L463.00,228.56 L463.25,228.56 L463.50,228.56 L463.75,228.57 L464.00,228.57 L464.25,228.57 L464.50,228.57 L464.75,228.58 L465.00,228.58 L465.25,228.58 L465.50,228.58 L465.75,228.58 L466.00,228.59 L466.25,228.59 L466.50,228.59 L466.75,228.59 L467.00,228.59 L467.25,228.59 L467.50,228.59 L467.75,228.60 L468.00,228.60 L468.25,228.60 L468.50,228.60 L468.75,228.60 L469.00,228.60 L469.25,228.60 L469.50,228.60 L469.75,228.60 L470.00,228.60 L470.25,228.60 L470.50,228.60 L470.75,228.60 L471.00,228.60 L471.25,228.60 L471.50,228.60 L471.75,228.60 L472.00,228.59 L472.25,228.59 L472.50,228.59 L472.75,228.59 L473.00,228.59 L473.25,228.59 L473.50,228.58 L473.75,228.58 L474.00,228.58 L474.25,228.58 L474.50,228.57 L474.75,228.57 L475.00,228.57 L475.25,228.57 L475.50,228.56 L475.75,228.56 L476.00,228.56 L476.25,228.55 L476.50,228.55 L476.75,228.55 L477.00,228.54 L477.25,228.54 L477.50,228.54 L477.75,228.53 L478.00,228.53 L478.25,228.52 L478.50,228.52 L478.75,228.52 L479.00,228.51 L479.25,228.51 L479.50,228.50 L479.75,228.50 L480.00,228.49 L480.25,228.49 L480.50,228.49 L480.75,228.48 L481.00,228.48 L481.25,228.47 L481.50,228.47 L481.75,228.46 L482.00,228.46 L482.25,228.45 L482.50,228.45 L482.75,228.45 L483.00,228.44 L483.25,228.44 L483.50,228.43 L483.75,228.43 L484.00,228.42 L484.25,228.42 L484.50,228.41 L484.75,228.41 L485.00,228.41 L485.25,228.40 L485.50,228.40 L485.75,228.39 L486.00,228.39 L486.25,228.38 L486.50,228.38 L486.75,228.38 L487.00,228.37 L487.25,228.37 L487.50,228.36 L487.75,228.36 L488.00,228.36 L488.25,228.35 L488.50,228.35 L488.75,228.35 L489.00,228.34 L489.25,228.34 L489.50,228.34 L489.75,228.33 L490.00,228.33 L490.25,228.33 L490.50,228.33 L490.75,228.32 L491.00,228.32 L491.25,228.32 L491.50,228.32 L491.75,228.31 L492.00,228.31 L492.25,228.31 L492.50,228.31 L492.75,228.31 L493.00,228.31 L493.25,228.30 L493.50,228.30 L493.75,228.30 L494.00,228.30 L494.25,228.30 L494.50,228.30 L494.75,228.30 L495.00,228.30 L495.25,228.30 L495.50,228.30 L495.75,228.30 L496.00,228.31 L496.25,228.31 L496.50,228.31 L496.75,228.32 L497.00,228.32 L497.25,228.33 L497.50,228.33 L497.75,228.34 L498.00,228.35 L498.25,228.35 L498.50,228.36 L498.75,228.37 L499.00,228.38 L499.25,228.39 L499.50,228.40 L499.75,228.41 L500.00,228.42 L500.25,228.43 L500.50,228.44 L500.75,228.45 L501.00,228.46 L501.25,228.47 L501.50,228.48 L501.75,228.49 L502.00,228.50 L502.25,228.51 L502.50,228.53 L502.75,228.54 L503.00,228.56 L503.25,228.58 L503.50,228.60 L503.75,228.63 L504.00,228.65 L504.25,228.68 L504.50,228.70 L504.75,228.73 L505.00,228.76 L505.25,228.79 L505.50,228.82 L505.75,228.85 L506.00,228.88 L506.25,228.91 L506.50,228.94 L506.75,228.97 L507.00,229.00 L507.25,229.03 L507.50,229.06 L507.75,229.09 L508.00,229.12 L508.25,229.14 L508.50,229.17 L508.75,229.20 L509.00,229.22 L509.25,229.24 L509.50,229.26 L509.75,229.28 L510.00,229.30 L510.25,229.32 L510.50,229.33 L510.75,229.35 L511.00,229.36 L511.25,229.38 L511.50,229.40 L511.75,229.41 L512.00,229.43 L512.25,229.44 L512.50,229.46 L512.75,229.47 L513.00,229.48 L513.25,229.50 L513.50,229.51 L513.75,229.53 L514.00,229.54 L514.25,229.55 L514.50,229.56 L514.75,229.58 L515.00,229.59 L515.25,229.60 L515.50,229.61 L515.75,229.62 L516.00,229.63 L516.25,229.64 L516.50,229.65 L516.75,229.66 L517.00,229.67 L517.25,229.67 L517.50,229.68 L517.75,229.69 L518.00,229.70" fill="none" stroke="#151515" stroke-width="0.92" stroke-linejoin="round"/>
<text transform="translate(58,40.0) rotate(0.06)" font-size="11.8">1glc1β-Aba</text>
<text transform="translate(86.7,143.3) rotate(0.06)" font-size="11.8">2glc</text>
<text transform="translate(132.8,87.7) rotate(0.06)" font-size="11.8">2glc1β-Aba</text>
<text transform="translate(228,67.4) rotate(0.06)" font-size="11.8">2glc3β-Aba</text>
<text transform="translate(254.6,90.4) rotate(0.06)" font-size="11.8">3glc1β-Aba</text>
<text transform="translate(263.4,113.3) rotate(0.06)" font-size="11.8">2glc2β-Aba</text>
<text transform="translate(291.6,127.4) rotate(0.06)" font-size="11.8">4glc2β-Aba</text>
<text transform="translate(304.0,191.6) rotate(0.06)" font-size="11.8">4glc3β-Aba</text>
<text transform="translate(112.6,13) rotate(0.06)" font-size="6" text-anchor="middle" class="st">★</text>
<g stroke="#3a3a3a" stroke-width="0.6" fill="none" marker-end="url(#ah)">
<path d="M91.6,41.4 L79.1,121.8"/>
<path d="M91.6,41.4 L109.5,70.4"/>
<path d="M163.3,90.7 L137.7,217.3"/>
<path d="M163.3,90.7 L218.9,109.9"/>
<path d="M163.3,90.7 L185.3,195.3"/>
</g>
<g stroke="#000" stroke-width="1.3" fill="none">
<path d="M230.5,70 L243.3,205"/>
<path d="M258,93.5 L245.9,193"/>
<path d="M263.6,115 L257.5,127"/>
<path d="M289.4,125.8 L283.7,136.2"/>
<path d="M304.7,194.4 L299.5,205.6"/>
</g>
<g stroke="#858585" stroke-width="1.2" fill="none">
<path d="M55.4,285 V507.6 M55.4,507.6 H524"/>
<path d="M50.4,480.4 H55.4"/>
<path d="M50.4,445.8 H55.4"/>
<path d="M50.4,411.2 H55.4"/>
<path d="M50.4,376.5 H55.4"/>
<path d="M50.4,341.9 H55.4"/>
<path d="M50.4,307.2 H55.4"/>
<path d="M56.9,507.6 V512.2"/>
<path d="M134.8,507.6 V512.2"/>
<path d="M212.6,507.6 V512.2"/>
<path d="M290.4,507.6 V512.2"/>
<path d="M368.3,507.6 V512.2"/>
<path d="M446.1,507.6 V512.2"/>
<path d="M524.0,507.6 V512.2"/>
</g>
<text class="b" transform="translate(48.4,483.1) scale(0.95,1)" font-size="9.5" text-anchor="end">–200</text>
<text class="b" transform="translate(48.4,448.5) scale(0.95,1)" font-size="9.5" text-anchor="end">0</text>
<text class="b" transform="translate(48.4,413.9) scale(0.95,1)" font-size="9.5" text-anchor="end">200</text>
<text class="b" transform="translate(48.4,379.2) scale(0.95,1)" font-size="9.5" text-anchor="end">400</text>
<text class="b" transform="translate(48.4,344.6) scale(0.95,1)" font-size="9.5" text-anchor="end">600</text>
<text class="b" transform="translate(48.4,309.9) scale(0.95,1)" font-size="9.5" text-anchor="end">800</text>
<text class="b" transform="translate(56.9,524.1) scale(0.95,1)" font-size="9.7" text-anchor="middle">0</text>
<text class="b" transform="translate(134.8,524.1) scale(0.95,1)" font-size="9.7" text-anchor="middle">5</text>
<text class="b" transform="translate(212.6,524.1) scale(0.95,1)" font-size="9.7" text-anchor="middle">10</text>
<text class="b" transform="translate(290.4,524.1) scale(0.95,1)" font-size="9.7" text-anchor="middle">15</text>
<text class="b" transform="translate(368.3,524.1) scale(0.95,1)" font-size="9.7" text-anchor="middle">20</text>
<text class="b" transform="translate(446.1,524.1) scale(0.95,1)" font-size="9.7" text-anchor="middle">25</text>
<text class="b" transform="translate(524.0,524.1) scale(0.95,1)" font-size="9.7" text-anchor="middle">30</text>
<text transform="translate(9.7,310) rotate(0.06)" font-size="15.1">(B)</text>
<text class="b" transform="translate(22,412.0) rotate(-90.06)" font-size="14.85" text-anchor="middle">Absorbance at 210nm (AU)</text>
<text class="b" transform="translate(300.2,541.6) rotate(0.06)" font-size="14.8" text-anchor="middle">Retention time (min)</text>
<text class="b" transform="translate(428.9,436.7) rotate(0.06)" font-size="16.7" textLength="94.2" lengthAdjust="spacingAndGlyphs">lac + β-Aba</text>
<path d="M56.00,445.75 L56.25,445.75 L56.50,445.75 L56.75,445.75 L57.00,445.75 L57.25,445.75 L57.50,445.75 L57.75,445.75 L58.00,445.75 L58.25,445.75 L58.50,445.75 L58.75,445.75 L59.00,445.75 L59.25,445.75 L59.50,445.75 L59.75,445.75 L60.00,445.75 L60.25,445.75 L60.50,445.75 L60.75,445.75 L61.00,445.75 L61.25,445.75 L61.50,445.75 L61.75,445.75 L62.00,445.75 L62.25,445.75 L62.50,445.75 L62.75,445.75 L63.00,445.75 L63.25,445.75 L63.50,445.75 L63.75,445.75 L64.00,445.75 L64.25,445.75 L64.50,445.75 L64.75,445.75 L65.00,445.75 L65.25,445.75 L65.50,445.75 L65.75,445.75 L66.00,445.75 L66.25,445.75 L66.50,445.75 L66.75,445.75 L67.00,445.75 L67.25,445.75 L67.50,445.75 L67.75,445.75 L68.00,445.75 L68.25,445.75 L68.50,445.75 L68.75,445.75 L69.00,445.75 L69.25,445.75 L69.50,445.75 L69.75,445.75 L70.00,445.75 L70.25,445.74 L70.50,445.72 L70.75,445.62 L71.00,445.22 L71.25,443.96 L71.50,440.47 L71.75,432.33 L72.00,416.37 L72.25,390.24 L72.50,355.31 L72.75,318.66 L73.00,291.71 L73.25,284.81 L73.50,303.22 L73.75,339.65 L74.00,379.35 L74.25,410.82 L74.50,430.30 L74.60,445.00 L75.50,507.00 L76.30,445.00 L76.50,444.77 L76.75,443.83 L77.00,442.81 L77.25,442.25 L77.50,442.34 L77.75,442.75 L78.00,443.35 L78.25,444.00 L78.50,444.60 L78.75,445.05 L79.00,445.36 L79.25,445.55 L79.50,445.65 L79.75,445.69 L80.00,445.71 L80.25,445.70 L80.50,445.64 L80.75,445.44 L81.00,444.83 L81.25,443.28 L81.50,439.85 L81.75,433.26 L82.00,422.44 L82.25,407.44 L82.50,390.31 L82.75,375.11 L83.00,366.52 L83.25,367.10 L83.50,375.11 L83.75,388.20 L84.00,403.22 L84.25,417.23 L84.50,428.40 L84.75,436.15 L85.00,440.90 L85.25,443.43 L85.50,444.52 L85.75,444.63 L86.00,443.91 L86.25,442.18 L86.50,439.13 L86.75,434.47 L87.00,428.29 L87.25,421.20 L87.50,414.42 L87.75,409.49 L88.00,407.68 L88.25,408.64 L88.50,411.40 L88.75,415.53 L89.00,420.48 L89.25,425.63 L89.50,430.43 L89.75,434.47 L90.00,437.48 L90.25,439.35 L90.50,440.03 L90.75,439.49 L91.00,437.76 L91.25,434.84 L91.50,430.83 L91.75,425.89 L92.00,420.36 L92.25,414.70 L92.50,409.48 L92.75,405.33 L93.00,402.76 L93.25,402.10 L93.50,402.36 L93.75,403.01 L94.00,404.02 L94.25,405.37 L94.50,407.01 L94.75,408.90 L95.00,411.00 L95.25,413.24 L95.50,415.57 L95.75,417.94 L96.00,420.29 L96.25,422.60 L96.50,424.81 L96.75,426.90 L97.00,428.85 L97.25,430.64 L97.50,432.27 L97.75,433.74 L98.00,435.05 L98.25,436.22 L98.50,437.25 L98.75,438.17 L99.00,438.99 L99.25,439.71 L99.50,440.33 L99.75,440.87 L100.00,441.34 L100.25,441.75 L100.50,442.10 L100.75,442.42 L101.00,442.71 L101.25,442.97 L101.50,443.20 L101.75,443.42 L102.00,443.63 L102.25,443.82 L102.50,443.99 L102.75,444.16 L103.00,444.31 L103.25,444.46 L103.50,444.59 L103.75,444.71 L104.00,444.82 L104.25,444.92 L104.50,445.02 L104.75,445.10 L105.00,445.17 L105.25,445.23 L105.50,445.29 L105.75,445.33 L106.00,445.37 L106.25,445.41 L106.50,445.44 L106.75,445.46 L107.00,445.48 L107.25,445.50 L107.50,445.51 L107.75,445.52 L108.00,445.53 L108.25,445.54 L108.50,445.54 L108.75,445.55 L109.00,445.55 L109.25,445.55 L109.50,445.55 L109.75,445.55 L110.00,445.55 L110.25,445.56 L110.50,445.55 L110.75,445.55 L111.00,445.55 L111.25,445.55 L111.50,445.54 L111.75,445.52 L112.00,445.49 L112.25,445.43 L112.50,445.34 L112.75,445.21 L113.00,445.06 L113.25,444.92 L113.50,444.80 L113.75,444.75 L114.00,444.77 L114.25,444.86 L114.50,445.00 L114.75,445.15 L115.00,445.28 L115.25,445.39 L115.50,445.46 L115.75,445.50 L116.00,445.52 L116.25,445.53 L116.50,445.53 L116.75,445.53 L117.00,445.53 L117.25,445.53 L117.50,445.53 L117.75,445.53 L118.00,445.53 L118.25,445.53 L118.50,445.52 L118.75,445.52 L119.00,445.52 L119.25,445.52 L119.50,445.52 L119.75,445.52 L120.00,445.52 L120.25,445.51 L120.50,445.51 L120.75,445.51 L121.00,445.51 L121.25,445.51 L121.50,445.51 L121.75,445.50 L122.00,445.50 L122.25,445.50 L122.50,445.50 L122.75,445.50 L123.00,445.49 L123.25,445.49 L123.50,445.49 L123.75,445.49 L124.00,445.48 L124.25,445.48 L124.50,445.48 L124.75,445.48 L125.00,445.47 L125.25,445.47 L125.50,445.47 L125.75,445.47 L126.00,445.46 L126.25,445.46 L126.50,445.46 L126.75,445.45 L127.00,445.45 L127.25,445.45 L127.50,445.44 L127.75,445.44 L128.00,445.44 L128.25,445.43 L128.50,445.43 L128.75,445.43 L129.00,445.42 L129.25,445.42 L129.50,445.41 L129.75,445.41 L130.00,445.41 L130.25,445.40 L130.50,445.40 L130.75,445.39 L131.00,445.39 L131.25,445.39 L131.50,445.38 L131.75,445.38 L132.00,445.37 L132.25,445.37 L132.50,445.36 L132.75,445.36 L133.00,445.35 L133.25,445.35 L133.50,445.34 L133.75,445.34 L134.00,445.33 L134.25,445.32 L134.50,445.32 L134.75,445.31 L135.00,445.31 L135.25,445.30 L135.50,445.27 L135.75,445.15 L136.00,444.95 L136.25,444.67 L136.50,443.73 L136.75,441.62 L137.00,439.50 L137.25,437.67 L137.50,435.87 L137.75,434.49 L138.00,433.65 L138.25,432.99 L138.50,432.53 L138.75,432.24 L139.00,432.02 L139.25,431.90 L139.50,431.94 L139.75,432.09 L140.00,432.31 L140.25,432.55 L140.50,432.88 L140.75,433.32 L141.00,433.81 L141.25,434.32 L141.50,434.80 L141.75,435.28 L142.00,435.80 L142.25,436.33 L142.50,436.84 L142.75,437.30 L143.00,437.68 L143.25,437.95 L143.50,438.17 L143.75,438.38 L144.00,438.53 L144.25,438.60 L144.50,438.46 L144.75,438.04 L145.00,437.60 L145.25,437.16 L145.50,436.74 L145.75,436.60 L146.00,436.74 L146.25,437.00 L146.50,437.30 L146.75,437.65 L147.00,438.10 L147.25,438.60 L147.50,439.11 L147.75,439.59 L148.00,440.00 L148.25,440.35 L148.50,440.70 L148.75,441.04 L149.00,441.35 L149.25,441.64 L149.50,441.90 L149.75,442.12 L150.00,442.30 L150.25,442.45 L150.50,442.59 L150.75,442.72 L151.00,442.84 L151.25,442.95 L151.50,443.06 L151.75,443.16 L152.00,443.26 L152.25,443.35 L152.50,443.43 L152.75,443.51 L153.00,443.58 L153.25,443.65 L153.50,443.72 L153.75,443.79 L154.00,443.85 L154.25,443.91 L154.50,443.97 L154.75,444.03 L155.00,444.09 L155.25,444.14 L155.50,444.19 L155.75,444.24 L156.00,444.29 L156.25,444.34 L156.50,444.39 L156.75,444.44 L157.00,444.48 L157.25,444.52 L157.50,444.56 L157.75,444.60 L158.00,444.64 L158.25,444.68 L158.50,444.71 L158.75,444.75 L159.00,444.78 L159.25,444.81 L159.50,444.84 L159.75,444.87 L160.00,444.90 L160.25,444.93 L160.50,444.96 L160.75,444.98 L161.00,445.01 L161.25,445.04 L161.50,445.07 L161.75,445.09 L162.00,445.12 L162.25,445.14 L162.50,445.17 L162.75,445.19 L163.00,445.21 L163.25,445.23 L163.50,445.25 L163.75,445.26 L164.00,445.27 L164.25,445.28 L164.50,445.29 L164.75,445.29 L165.00,445.27 L165.25,445.25 L165.50,445.20 L165.75,445.12 L166.00,445.00 L166.25,444.83 L166.50,444.62 L166.75,444.36 L167.00,444.09 L167.25,443.83 L167.50,443.62 L167.75,443.49 L168.00,443.47 L168.25,443.51 L168.50,443.59 L168.75,443.71 L169.00,443.86 L169.25,444.02 L169.50,444.19 L169.75,444.36 L170.00,444.51 L170.25,444.64 L170.50,444.76 L170.75,444.84 L171.00,444.91 L171.25,444.95 L171.50,444.98 L171.75,444.99 L172.00,444.99 L172.25,444.99 L172.50,444.97 L172.75,444.95 L173.00,444.93 L173.25,444.90 L173.50,444.87 L173.75,444.83 L174.00,444.80 L174.25,444.67 L174.50,444.35 L174.75,443.80 L175.00,443.00 L175.25,437.18 L175.50,425.25 L175.75,409.54 L176.00,390.00 L176.25,375.61 L176.50,366.00 L176.75,361.41 L177.00,359.40 L177.25,359.97 L177.50,361.28 L177.75,362.74 L178.00,364.01 L178.25,365.32 L178.50,366.68 L178.75,368.09 L179.00,369.53 L179.25,371.00 L179.50,372.51 L179.75,374.04 L180.00,375.60 L180.25,377.17 L180.50,378.75 L180.75,380.34 L181.00,381.94 L181.25,383.58 L181.50,385.27 L181.75,386.99 L182.00,388.74 L182.25,390.51 L182.50,392.30 L182.75,394.10 L183.00,395.90 L183.25,397.69 L183.50,399.47 L183.75,401.23 L184.00,402.97 L184.25,404.66 L184.50,406.34 L184.75,408.01 L185.00,409.67 L185.25,411.34 L185.50,412.99 L185.75,414.63 L186.00,416.26 L186.25,417.87 L186.50,419.47 L186.75,421.04 L187.00,422.59 L187.25,424.11 L187.50,425.61 L187.75,427.08 L188.00,428.56 L188.25,430.02 L188.50,431.45 L188.75,432.80 L189.00,434.07 L189.25,435.22 L189.50,436.32 L189.75,437.36 L190.00,438.29 L190.25,439.07 L190.50,439.70 L190.75,440.29 L191.00,440.83 L191.25,441.34 L191.50,441.80 L191.75,442.22 L192.00,442.59 L192.25,442.92 L192.50,443.20 L192.75,443.45 L193.00,443.67 L193.25,443.87 L193.50,444.06 L193.75,444.23 L194.00,444.39 L194.25,444.55 L194.50,444.69 L194.75,444.84 L195.00,444.99 L195.25,445.14 L195.50,445.30 L195.75,445.47 L196.00,445.64 L196.25,445.82 L196.50,446.01 L196.75,446.20 L197.00,446.39 L197.25,446.59 L197.50,446.79 L197.75,446.99 L198.00,447.19 L198.25,447.39 L198.50,447.59 L198.75,447.79 L199.00,447.98 L199.25,448.18 L199.50,448.37 L199.75,448.55 L200.00,448.73 L200.25,448.91 L200.50,449.08 L200.75,449.24 L201.00,449.39 L201.25,449.53 L201.50,449.66 L201.75,449.79 L202.00,449.90 L202.25,450.00 L202.50,450.08 L202.75,450.16 L203.00,450.22 L203.25,450.26 L203.50,450.29 L203.75,450.30 L204.00,450.28 L204.25,450.21 L204.50,450.08 L204.75,449.91 L205.00,449.70 L205.25,449.46 L205.50,449.18 L205.75,448.88 L206.00,448.57 L206.25,448.23 L206.50,447.90 L206.75,447.56 L207.00,447.22 L207.25,446.89 L207.50,446.57 L207.75,446.27 L208.00,446.00 L208.25,445.73 L208.50,445.43 L208.75,445.11 L209.00,444.78 L209.25,444.43 L209.50,444.09 L209.75,443.75 L210.00,443.42 L210.25,443.11 L210.50,442.81 L210.75,442.54 L211.00,442.31 L211.25,442.11 L211.50,441.95 L211.75,441.85 L212.00,441.80 L212.25,441.78 L212.50,441.76 L212.75,441.74 L213.00,441.73 L213.25,441.71 L213.50,441.70 L213.75,441.68 L214.00,441.67 L214.25,441.66 L214.50,441.65 L214.75,441.64 L215.00,441.63 L215.25,441.62 L215.50,441.62 L215.75,441.61 L216.00,441.61 L216.25,441.60 L216.50,441.60 L216.75,441.60 L217.00,441.60 L217.25,441.61 L217.50,441.65 L217.75,441.70 L218.00,441.78 L218.25,441.87 L218.50,441.97 L218.75,442.08 L219.00,442.20 L219.25,442.32 L219.50,442.45 L219.75,442.58 L220.00,442.70 L220.25,442.82 L220.50,442.93 L220.75,443.03 L221.00,443.10 L221.25,443.13 L221.50,443.06 L221.75,442.80 L222.00,442.12 L222.25,440.71 L222.50,438.08 L222.75,433.65 L223.00,426.94 L223.25,417.87 L223.50,407.04 L223.75,395.89 L224.00,386.45 L224.25,380.77 L224.50,380.14 L224.75,383.95 L225.00,391.26 L225.25,400.72 L225.50,410.79 L225.75,420.13 L226.00,427.88 L226.25,433.71 L226.50,437.69 L226.75,440.13 L227.00,441.40 L227.25,441.82 L227.50,441.66 L227.75,441.21 L228.00,440.81 L228.25,440.71 L228.50,441.00 L228.75,441.56 L229.00,442.17 L229.25,442.65 L229.50,442.95 L229.75,443.09 L230.00,443.15 L230.25,443.16 L230.50,443.16 L230.75,443.16 L231.00,443.15 L231.25,443.12 L231.50,443.04 L231.75,442.78 L232.00,442.03 L232.25,440.26 L232.50,436.86 L232.75,431.60 L233.00,425.27 L233.25,419.73 L233.50,417.04 L233.75,416.75 L234.00,417.19 L234.25,417.46 L234.50,416.76 L234.75,414.77 L235.00,411.91 L235.25,409.29 L235.50,408.19 L235.75,409.22 L236.00,411.45 L236.25,414.67 L236.50,418.64 L236.75,422.97 L237.00,427.28 L237.25,431.23 L237.50,434.59 L237.75,437.26 L238.00,439.27 L238.25,440.69 L238.50,441.63 L238.75,442.22 L239.00,442.55 L239.25,442.71 L239.50,442.70 L239.75,442.54 L240.00,442.17 L240.25,441.55 L240.50,440.66 L240.75,439.59 L241.00,438.47 L241.25,437.55 L241.50,437.05 L241.75,437.07 L242.00,437.46 L242.25,438.14 L242.50,439.00 L242.75,439.90 L243.00,440.75 L243.25,441.46 L243.50,442.01 L243.75,442.41 L244.00,442.66 L244.25,442.82 L244.50,442.91 L244.75,442.96 L245.00,442.98 L245.25,442.99 L245.50,443.00 L245.75,443.00 L246.00,443.00 L246.25,443.00 L246.50,442.99 L246.75,442.93 L247.00,442.74 L247.25,442.22 L247.50,441.04 L247.75,438.86 L248.00,435.66 L248.25,432.06 L248.50,429.29 L248.75,428.55 L249.00,430.18 L249.25,433.37 L249.50,436.72 L249.75,439.07 L250.00,439.99 L250.25,439.65 L250.50,438.59 L250.75,437.19 L251.00,435.19 L251.25,431.31 L251.50,423.64 L251.75,411.19 L252.00,395.79 L252.25,382.56 L252.50,377.37 L252.75,379.95 L253.00,386.87 L253.25,396.73 L253.50,407.68 L253.75,418.05 L254.00,426.68 L254.25,433.12 L254.50,437.47 L254.75,440.14 L255.00,441.63 L255.25,442.40 L255.50,442.77 L255.75,442.92 L256.00,442.99 L256.25,443.01 L256.50,443.02 L256.75,443.02 L257.00,443.02 L257.25,443.02 L257.50,443.02 L257.75,443.02 L258.00,443.02 L258.25,443.03 L258.50,443.03 L258.75,443.03 L259.00,443.03 L259.25,443.03 L259.50,443.03 L259.75,443.03 L260.00,443.03 L260.25,443.02 L260.50,443.00 L260.75,442.96 L261.00,442.87 L261.25,442.70 L261.50,442.43 L261.75,442.04 L262.00,441.55 L262.25,441.02 L262.50,440.57 L262.75,440.29 L263.00,440.25 L263.25,440.41 L263.50,440.70 L263.75,441.09 L264.00,441.51 L264.25,441.92 L264.50,442.27 L264.75,442.54 L265.00,442.74 L265.25,442.87 L265.50,442.95 L265.75,443.00 L266.00,443.03 L266.25,443.04 L266.50,443.05 L266.75,443.05 L267.00,443.05 L267.25,443.05 L267.50,443.05 L267.75,443.05 L268.00,443.06 L268.25,443.06 L268.50,443.06 L268.75,443.06 L269.00,443.06 L269.25,443.06 L269.50,443.06 L269.75,443.05 L270.00,442.99 L270.25,442.82 L270.50,442.31 L270.75,441.00 L271.00,438.08 L271.25,432.48 L271.50,423.29 L271.75,410.54 L272.00,395.98 L272.25,383.06 L272.50,375.76 L272.75,376.01 L273.00,381.47 L273.25,390.69 L273.50,401.83 L273.75,413.02 L274.00,422.80 L274.25,430.41 L274.50,435.76 L274.75,439.16 L275.00,441.14 L275.25,442.19 L275.50,442.69 L275.75,442.87 L276.00,442.79 L276.25,442.34 L276.50,441.26 L276.75,439.23 L277.00,436.26 L277.25,432.90 L277.50,430.32 L277.75,429.62 L278.00,430.51 L278.25,432.44 L278.50,434.91 L278.75,437.39 L279.00,439.49 L279.25,441.03 L279.50,442.03 L279.75,442.60 L280.00,442.89 L280.25,443.02 L280.50,443.08 L280.75,443.09 L281.00,443.09 L281.25,443.06 L281.50,443.00 L281.75,442.86 L282.00,442.59 L282.25,442.15 L282.50,441.49 L282.75,440.64 L283.00,439.70 L283.25,438.83 L283.50,438.21 L283.75,437.98 L284.00,438.14 L284.25,438.56 L284.50,439.02 L284.75,439.32 L285.00,439.37 L285.25,439.20 L285.50,438.98 L285.75,438.87 L286.00,438.89 L286.25,438.82 L286.50,438.23 L286.75,436.59 L287.00,433.74 L287.25,430.29 L287.50,427.59 L287.75,426.97 L288.00,428.14 L288.25,430.47 L288.50,433.43 L288.75,436.38 L289.00,438.87 L289.25,440.69 L289.50,441.83 L289.75,442.39 L290.00,442.39 L290.25,441.74 L290.50,440.25 L290.75,437.88 L291.00,435.03 L291.25,432.61 L291.50,431.66 L291.75,432.21 L292.00,433.70 L292.25,435.75 L292.50,437.90 L292.75,439.77 L293.00,441.18 L293.25,442.12 L293.50,442.66 L293.75,442.95 L294.00,443.08 L294.25,443.14 L294.50,443.15 L294.75,443.12 L295.00,442.99 L295.25,442.64 L295.50,441.82 L295.75,440.32 L296.00,438.12 L296.25,435.63 L296.50,433.72 L296.75,433.20 L297.00,433.73 L297.25,434.89 L297.50,436.45 L297.75,438.13 L298.00,439.67 L298.25,440.92 L298.50,441.84 L298.75,442.45 L299.00,442.81 L299.25,443.02 L299.50,443.12 L299.75,443.17 L300.00,443.19 L300.25,443.20 L300.50,443.20 L300.75,443.20 L301.00,443.20 L301.25,443.21 L301.50,443.21 L301.75,443.21 L302.00,443.21 L302.25,443.21 L302.50,443.21 L302.75,443.21 L303.00,443.21 L303.25,443.22 L303.50,443.22 L303.75,443.22 L304.00,443.22 L304.25,443.22 L304.50,443.22 L304.75,443.22 L305.00,443.22 L305.25,443.22 L305.50,443.23 L305.75,443.23 L306.00,443.23 L306.25,443.23 L306.50,443.23 L306.75,443.23 L307.00,443.23 L307.25,443.23 L307.50,443.23 L307.75,443.22 L308.00,443.20 L308.25,443.16 L308.50,443.06 L308.75,442.88 L309.00,442.59 L309.25,442.18 L309.50,441.65 L309.75,441.09 L310.00,440.60 L310.25,440.30 L310.50,440.27 L310.75,440.52 L311.00,440.99 L311.25,441.55 L311.50,442.09 L311.75,442.53 L312.00,442.85 L312.25,443.05 L312.50,443.14 L312.75,443.14 L313.00,442.99 L313.25,442.60 L313.50,441.82 L313.75,440.61 L314.00,439.17 L314.25,437.95 L314.50,437.47 L314.75,437.94 L315.00,439.10 L315.25,440.38 L315.50,441.19 L315.75,441.15 L316.00,440.24 L316.25,438.74 L316.50,437.27 L316.75,436.51 L317.00,436.70 L317.25,437.49 L317.50,438.66 L317.75,439.94 L318.00,441.09 L318.25,441.99 L318.50,442.60 L318.75,442.96 L319.00,443.16 L319.25,443.25 L319.50,443.29 L319.75,443.31 L320.00,443.32 L320.25,443.32 L320.50,443.33 L320.75,443.33 L321.00,443.33 L321.25,443.34 L321.50,443.34 L321.75,443.34 L322.00,443.34 L322.25,443.35 L322.50,443.35 L322.75,443.35 L323.00,443.36 L323.25,443.36 L323.50,443.36 L323.75,443.37 L324.00,443.37 L324.25,443.37 L324.50,443.38 L324.75,443.38 L325.00,443.38 L325.25,443.39 L325.50,443.39 L325.75,443.40 L326.00,443.40 L326.25,443.38 L326.50,443.30 L326.75,442.98 L327.00,441.97 L327.25,439.38 L327.50,433.94 L327.75,424.76 L328.00,412.53 L328.25,400.46 L328.50,393.19 L328.75,393.39 L329.00,398.51 L329.25,406.87 L329.50,416.46 L329.75,425.42 L330.00,432.55 L330.25,437.52 L330.50,440.58 L330.75,442.26 L331.00,443.09 L331.25,443.46 L331.50,443.62 L331.75,443.69 L332.00,443.73 L332.25,443.75 L332.50,443.77 L332.75,443.79 L333.00,443.82 L333.25,443.84 L333.50,443.86 L333.75,443.88 L334.00,443.90 L334.25,443.92 L334.50,443.95 L334.75,443.98 L335.00,444.01 L335.25,444.04 L335.50,444.08 L335.75,444.11 L336.00,444.15 L336.25,444.19 L336.50,444.23 L336.75,444.27 L337.00,444.29 L337.25,444.29 L337.50,444.23 L337.75,444.10 L338.00,443.86 L338.25,443.48 L338.50,443.00 L338.75,442.48 L339.00,442.04 L339.25,441.78 L339.50,441.78 L339.75,441.93 L340.00,442.20 L340.25,442.55 L340.50,442.95 L340.75,443.35 L341.00,443.74 L341.25,444.09 L341.50,444.38 L341.75,444.61 L342.00,444.78 L342.25,444.90 L342.50,444.98 L342.75,445.04 L343.00,445.07 L343.25,445.08 L343.50,445.09 L343.75,445.10 L344.00,445.10 L344.25,445.10 L344.50,445.10 L344.75,445.10 L345.00,445.10 L345.25,445.10 L345.50,445.10 L345.75,445.10 L346.00,445.10 L346.25,445.10 L346.50,445.10 L346.75,445.10 L347.00,445.10 L347.25,445.10 L347.50,445.10 L347.75,445.10 L348.00,445.10 L348.25,445.10 L348.50,445.10 L348.75,445.10 L349.00,445.10 L349.25,445.10 L349.50,445.10 L349.75,445.09 L350.00,445.09 L350.25,445.08 L350.50,445.07 L350.75,445.04 L351.00,445.00 L351.25,444.95 L351.50,444.87 L351.75,444.76 L352.00,444.63 L352.25,444.47 L352.50,444.29 L352.75,444.11 L353.00,443.93 L353.25,443.79 L353.50,443.69 L353.75,443.66 L354.00,443.67 L354.25,443.72 L354.50,443.79 L354.75,443.88 L355.00,444.00 L355.25,444.12 L355.50,444.26 L355.75,444.39 L356.00,444.53 L356.25,444.65 L356.50,444.77 L356.75,444.88 L357.00,444.97 L357.25,445.05 L357.50,445.12 L357.75,445.18 L358.00,445.22 L358.25,445.26 L358.50,445.29 L358.75,445.32 L359.00,445.34 L359.25,445.36 L359.50,445.37 L359.75,445.38 L360.00,445.40 L360.25,445.41 L360.50,445.42 L360.75,445.43 L361.00,445.44 L361.25,445.45 L361.50,445.46 L361.75,445.47 L362.00,445.49 L362.25,445.50 L362.50,445.51 L362.75,445.53 L363.00,445.54 L363.25,445.55 L363.50,445.57 L363.75,445.58 L364.00,445.59 L364.25,445.61 L364.50,445.62 L364.75,445.63 L365.00,445.65 L365.25,445.66 L365.50,445.68 L365.75,445.69 L366.00,445.70 L366.25,445.72 L366.50,445.73 L366.75,445.74 L367.00,445.76 L367.25,445.77 L367.50,445.78 L367.75,445.79 L368.00,445.80 L368.25,445.81 L368.50,445.82 L368.75,445.83 L369.00,445.84 L369.25,445.85 L369.50,445.86 L369.75,445.87 L370.00,445.87 L370.25,445.88 L370.50,445.88 L370.75,445.89 L371.00,445.89 L371.25,445.90 L371.50,445.90 L371.75,445.90 L372.00,445.90 L372.25,445.90 L372.50,445.90 L372.75,445.90 L373.00,445.90 L373.25,445.90 L373.50,445.90 L373.75,445.90 L374.00,445.89 L374.25,445.89 L374.50,445.89 L374.75,445.89 L375.00,445.89 L375.25,445.88 L375.50,445.88 L375.75,445.88 L376.00,445.88 L376.25,445.87 L376.50,445.87 L376.75,445.87 L377.00,445.86 L377.25,445.86 L377.50,445.86 L377.75,445.85 L378.00,445.85 L378.25,445.84 L378.50,445.84 L378.75,445.83 L379.00,445.83 L379.25,445.83 L379.50,445.82 L379.75,445.82 L380.00,445.81 L380.25,445.81 L380.50,445.80 L380.75,445.80 L381.00,445.79 L381.25,445.79 L381.50,445.78 L381.75,445.78 L382.00,445.77 L382.25,445.76 L382.50,445.76 L382.75,445.75 L383.00,445.75 L383.25,445.74 L383.50,445.74 L383.75,445.73 L384.00,445.72 L384.25,445.72 L384.50,445.71 L384.75,445.71 L385.00,445.70 L385.25,445.69 L385.50,445.69 L385.75,445.68 L386.00,445.67 L386.25,445.66 L386.50,445.64 L386.75,445.63 L387.00,445.61 L387.25,445.57 L387.50,445.50 L387.75,445.37 L388.00,445.12 L388.25,444.70 L388.50,444.05 L388.75,443.18 L389.00,442.15 L389.25,441.13 L389.50,440.33 L389.75,439.95 L390.00,440.00 L390.25,440.28 L390.50,440.75 L390.75,441.35 L391.00,442.02 L391.25,442.69 L391.50,443.31 L391.75,443.84 L392.00,444.27 L392.25,444.60 L392.50,444.83 L392.75,444.99 L393.00,445.09 L393.25,445.15 L393.50,445.18 L393.75,445.19 L394.00,445.20 L394.25,445.20 L394.50,445.20 L394.75,445.20 L395.00,445.20 L395.25,445.20 L395.50,445.20 L395.75,445.20 L396.00,445.20 L396.25,445.20 L396.50,445.20 L396.75,445.20 L397.00,445.20 L397.25,445.20 L397.50,445.20 L397.75,445.20 L398.00,445.20 L398.25,445.20 L398.50,445.20 L398.75,445.20 L399.00,445.20 L399.25,445.20 L399.50,445.20 L399.75,445.20 L400.00,445.20 L400.25,445.20 L400.50,445.20 L400.75,445.20 L401.00,445.20 L401.25,445.20 L401.50,445.20 L401.75,445.20 L402.00,445.20 L402.25,445.20 L402.50,445.20 L402.75,445.20 L403.00,445.20 L403.25,445.20 L403.50,445.20 L403.75,445.20 L404.00,445.21 L404.25,445.21 L404.50,445.21 L404.75,445.21 L405.00,445.21 L405.25,445.20 L405.50,445.19 L405.75,445.16 L406.00,445.13 L406.25,445.08 L406.50,445.01 L406.75,444.93 L407.00,444.84 L407.25,444.73 L407.50,444.62 L407.75,444.51 L408.00,444.41 L408.25,444.32 L408.50,444.26 L408.75,444.23 L409.00,444.23 L409.25,444.26 L409.50,444.31 L409.75,444.38 L410.00,444.47 L410.25,444.57 L410.50,444.68 L410.75,444.79 L411.00,444.91 L411.25,445.03 L411.50,445.14 L411.75,445.25 L412.00,445.35 L412.25,445.44 L412.50,445.52 L412.75,445.59 L413.00,445.66 L413.25,445.71 L413.50,445.75 L413.75,445.79 L414.00,445.82 L414.25,445.84 L414.50,445.86 L414.75,445.88 L415.00,445.89 L415.25,445.89 L415.50,445.90 L415.75,445.90 L416.00,445.91 L416.25,445.91 L416.50,445.92 L416.75,445.92 L417.00,445.92 L417.25,445.92 L417.50,445.93 L417.75,445.93 L418.00,445.93 L418.25,445.93 L418.50,445.94 L418.75,445.94 L419.00,445.94 L419.25,445.94 L419.50,445.94 L419.75,445.95 L420.00,445.95 L420.25,445.95 L420.50,445.95 L420.75,445.95 L421.00,445.96 L421.25,445.96 L421.50,445.96 L421.75,445.96 L422.00,445.96 L422.25,445.96 L422.50,445.97 L422.75,445.97 L423.00,445.97 L423.25,445.97 L423.50,445.97 L423.75,445.97 L424.00,445.97 L424.25,445.97 L424.50,445.98 L424.75,445.98 L425.00,445.98 L425.25,445.98 L425.50,445.97 L425.75,445.97 L426.00,445.97 L426.25,445.96 L426.50,445.95 L426.75,445.93 L427.00,445.91 L427.25,445.88 L427.50,445.84 L427.75,445.80 L428.00,445.74 L428.25,445.69 L428.50,445.63 L428.75,445.57 L429.00,445.52 L429.25,445.47 L429.50,445.43 L429.75,445.41 L430.00,445.40 L430.25,445.41 L430.50,445.43 L430.75,445.47 L431.00,445.52 L431.25,445.58 L431.50,445.64 L431.75,445.70 L432.00,445.76 L432.25,445.81 L432.50,445.86 L432.75,445.90 L433.00,445.93 L433.25,445.96 L433.50,445.97 L433.75,445.99 L434.00,446.00 L434.25,446.01 L434.50,446.01 L434.75,446.01 L435.00,446.02 L435.25,446.02 L435.50,446.02 L435.75,446.02 L436.00,446.02 L436.25,446.02 L436.50,446.02 L436.75,446.02 L437.00,446.02 L437.25,446.03 L437.50,446.03 L437.75,446.03 L438.00,446.03 L438.25,446.03 L438.50,446.03 L438.75,446.03 L439.00,446.03 L439.25,446.03 L439.50,446.03 L439.75,446.03 L440.00,446.03 L440.25,446.03 L440.50,446.03 L440.75,446.03 L441.00,446.04 L441.25,446.04 L441.50,446.04 L441.75,446.04 L442.00,446.04 L442.25,446.04 L442.50,446.04 L442.75,446.04 L443.00,446.04 L443.25,446.04 L443.50,446.04 L443.75,446.04 L444.00,446.04 L444.25,446.04 L444.50,446.04 L444.75,446.04 L445.00,446.04 L445.25,446.04 L445.50,446.05 L445.75,446.05 L446.00,446.05 L446.25,446.05 L446.50,446.05 L446.75,446.05 L447.00,446.05 L447.25,446.05 L447.50,446.05 L447.75,446.05 L448.00,446.05 L448.25,446.05 L448.50,446.05 L448.75,446.05 L449.00,446.05 L449.25,446.05 L449.50,446.05 L449.75,446.05 L450.00,446.05 L450.25,446.05 L450.50,446.05 L450.75,446.05 L451.00,446.05 L451.25,446.05 L451.50,446.05 L451.75,446.05 L452.00,446.06 L452.25,446.06 L452.50,446.06 L452.75,446.06 L453.00,446.06 L453.25,446.06 L453.50,446.06 L453.75,446.06 L454.00,446.06 L454.25,446.06 L454.50,446.06 L454.75,446.06 L455.00,446.06 L455.25,446.06 L455.50,446.06 L455.75,446.06 L456.00,446.06 L456.25,446.06 L456.50,446.06 L456.75,446.06 L457.00,446.06 L457.25,446.06 L457.50,446.06 L457.75,446.06 L458.00,446.06 L458.25,446.06 L458.50,446.06 L458.75,446.06 L459.00,446.06 L459.25,446.06 L459.50,446.06 L459.75,446.06 L460.00,446.06 L460.25,446.06 L460.50,446.07 L460.75,446.07 L461.00,446.07 L461.25,446.07 L461.50,446.07 L461.75,446.07 L462.00,446.07 L462.25,446.07 L462.50,446.07 L462.75,446.07 L463.00,446.07 L463.25,446.07 L463.50,446.07 L463.75,446.07 L464.00,446.07 L464.25,446.07 L464.50,446.07 L464.75,446.07 L465.00,446.07 L465.25,446.07 L465.50,446.07 L465.75,446.07 L466.00,446.07 L466.25,446.07 L466.50,446.07 L466.75,446.07 L467.00,446.07 L467.25,446.07 L467.50,446.07 L467.75,446.07 L468.00,446.07 L468.25,446.07 L468.50,446.07 L468.75,446.07 L469.00,446.07 L469.25,446.07 L469.50,446.07 L469.75,446.08 L470.00,446.08 L470.25,446.08 L470.50,446.08 L470.75,446.08 L471.00,446.08 L471.25,446.08 L471.50,446.08 L471.75,446.08 L472.00,446.08 L472.25,446.08 L472.50,446.08 L472.75,446.08 L473.00,446.08 L473.25,446.08 L473.50,446.08 L473.75,446.08 L474.00,446.08 L474.25,446.08 L474.50,446.08 L474.75,446.08 L475.00,446.08 L475.25,446.08 L475.50,446.08 L475.75,446.08 L476.00,446.08 L476.25,446.08 L476.50,446.09 L476.75,446.09 L477.00,446.09 L477.25,446.09 L477.50,446.09 L477.75,446.09 L478.00,446.09 L478.25,446.09 L478.50,446.09 L478.75,446.09 L479.00,446.09 L479.25,446.09 L479.50,446.09 L479.75,446.09 L480.00,446.09 L480.25,446.09 L480.50,446.09 L480.75,446.09 L481.00,446.09 L481.25,446.10 L481.50,446.10 L481.75,446.10 L482.00,446.10 L482.25,446.10 L482.50,446.10 L482.75,446.10 L483.00,446.10 L483.25,446.10 L483.50,446.10 L483.75,446.10 L484.00,446.10 L484.25,446.10 L484.50,446.10 L484.75,446.10 L485.00,446.10 L485.25,446.11 L485.50,446.11 L485.75,446.11 L486.00,446.11 L486.25,446.11 L486.50,446.11 L486.75,446.11 L487.00,446.11 L487.25,446.11 L487.50,446.11 L487.75,446.11 L488.00,446.11 L488.25,446.11 L488.50,446.12 L488.75,446.12 L489.00,446.12 L489.25,446.12 L489.50,446.12 L489.75,446.12 L490.00,446.12 L490.25,446.12 L490.50,446.12 L490.75,446.12 L491.00,446.12 L491.25,446.13 L491.50,446.13 L491.75,446.13 L492.00,446.13 L492.25,446.13 L492.50,446.13 L492.75,446.13 L493.00,446.13 L493.25,446.13 L493.50,446.13 L493.75,446.14 L494.00,446.14 L494.25,446.14 L494.50,446.14 L494.75,446.14 L495.00,446.14 L495.25,446.14 L495.50,446.14 L495.75,446.15 L496.00,446.15 L496.25,446.15 L496.50,446.15 L496.75,446.15 L497.00,446.15 L497.25,446.15 L497.50,446.15 L497.75,446.16 L498.00,446.16 L498.25,446.16 L498.50,446.16 L498.75,446.16 L499.00,446.16 L499.25,446.16 L499.50,446.16 L499.75,446.17 L500.00,446.17 L500.25,446.17 L500.50,446.17 L500.75,446.17 L501.00,446.17 L501.25,446.18 L501.50,446.18 L501.75,446.18 L502.00,446.18 L502.25,446.18 L502.50,446.18 L502.75,446.18 L503.00,446.19 L503.25,446.19 L503.50,446.19 L503.75,446.19 L504.00,446.19 L504.25,446.19 L504.50,446.20 L504.75,446.20 L505.00,446.20 L505.25,446.21 L505.50,446.22 L505.75,446.23 L506.00,446.26 L506.25,446.28 L506.50,446.31 L506.75,446.35 L507.00,446.39 L507.25,446.43 L507.50,446.47 L507.75,446.52 L508.00,446.57 L508.25,446.62 L508.50,446.67 L508.75,446.72 L509.00,446.77 L509.25,446.82 L509.50,446.87 L509.75,446.91 L510.00,446.96 L510.25,447.00 L510.50,447.04 L510.75,447.08 L511.00,447.11 L511.25,447.14 L511.50,447.17 L511.75,447.19 L512.00,447.20 L512.25,447.21 L512.50,447.22 L512.75,447.23 L513.00,447.24 L513.25,447.25 L513.50,447.26 L513.75,447.28 L514.00,447.29 L514.25,447.30 L514.50,447.30 L514.75,447.31 L515.00,447.32 L515.25,447.33 L515.50,447.34 L515.75,447.35 L516.00,447.36 L516.25,447.37 L516.50,447.37 L516.75,447.38 L517.00,447.39 L517.25,447.40 L517.50,447.40 L517.75,447.41 L518.00,447.42 L518.25,447.42 L518.50,447.43 L518.75,447.44 L519.00,447.44 L519.25,447.45 L519.50,447.45 L519.75,447.46 L520.00,447.46 L520.25,447.47 L520.50,447.47 L520.75,447.48 L521.00,447.48 L521.25,447.48 L521.50,447.49 L521.75,447.49 L522.00,447.49 L522.25,447.49 L522.50,447.49 L522.75,447.50 L523.00,447.50 L523.25,447.50 L523.50,447.50 L523.75,447.50 L524.00,447.50" fill="none" stroke="#151515" stroke-width="0.92" stroke-linejoin="round"/>
<text transform="translate(61.2,286.0) rotate(0.06)" font-size="11.7">1β-Aba</text>
<text transform="translate(78.8,364.7) rotate(0.06)" font-size="11.7">1lac</text>
<text transform="translate(114.6,335.6) rotate(0.06)" font-size="11.7">1lac1β-Aba</text>
<text transform="translate(217.6,377) rotate(0.06)" font-size="11.7">2lac</text>
<text transform="translate(242,336.6) rotate(0.06)" font-size="11.7">2lac1β-Aba</text>
<text transform="translate(300,323) rotate(0.06)" font-size="11.7">2lac2β-Aba</text>
<text transform="translate(311.3,351.4) rotate(0.06)" font-size="11.7">3lac1β-Aba</text>
<text transform="translate(324.8,385.9) rotate(0.06)" font-size="11.7">4lac1β-Aba</text>
<text transform="translate(176.4,355.7) rotate(0.06)" font-size="6" text-anchor="middle" class="st">★</text>
<g stroke="#3a3a3a" stroke-width="0.6" fill="none" marker-end="url(#ah)">
<path d="M138,341 L95,401.8"/>
<path d="M138,341 L174.3,358.3"/>
<path d="M315.0,356.3 L288.5,424.3"/>
<path d="M315.0,356.3 L297.3,431.8"/>
<path d="M315.0,356.3 L317.1,436.2"/>
</g>
<g stroke="#000" stroke-width="1.3" fill="none">
<path d="M252.9,373.8 L263.3,344.5 L273.8,372.8"/>
<path d="M305.9,326.6 L278.2,430"/>
</g>
</g></svg></body></html>
